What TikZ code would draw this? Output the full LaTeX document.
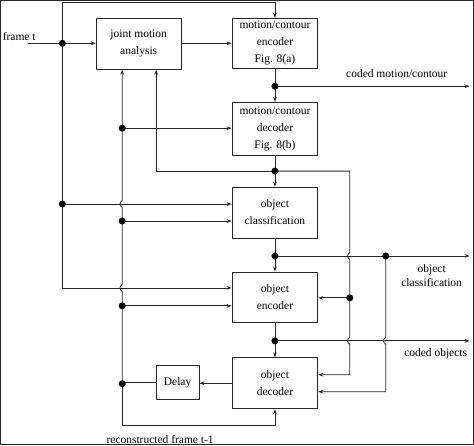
\documentclass[tikz,border=0pt]{standalone}
\usepackage{fontspec}
\setmainfont{Liberation Serif}
\usetikzlibrary{arrows.meta,calc}
\begin{document}
\begin{tikzpicture}[x=1pt,y=-1pt,
  line width=0.8pt,
  every path/.style={draw=black!85},
  box/.style={draw=black!85,fill=white,minimum width=86pt,minimum height=51pt,align=center,inner sep=1pt,
    font=\fontsize{11.5}{17}\selectfont},
  lbl/.style={align=center,font=\fontsize{11.5}{14}\selectfont,inner sep=0pt},
  arr/.style={-{Stealth[length=5pt,width=3.6pt]}},
  dot/.style={circle,fill=black,inner sep=0pt,minimum size=7pt}]
\useasboundingbox (0,0) rectangle (474,445);

% boxes
\node[box,minimum width=85pt] (jma) at (138.5,43.5) {joint motion\\analysis};
\node[box,minimum height=50pt] (mce) at (275,43) {motion/contour\\encoder\\Fig. 8(a)};
\node[box,minimum height=53pt] (mcd) at (275,128.5) {motion/contour\\decoder\\Fig. 8(b)};
\node[box] (ocl) at (275,212.5) {object\\classification};
\node[box] (oen) at (275,297.5) {object\\encoder};
\node[box] (ode) at (275,383.5) {object\\decoder};
\node[box,minimum width=43pt,minimum height=34pt] (dly) at (177.5,383) {Delay};

% labels
\node[lbl,anchor=west] (lft) at (2,36) {frame t};
\node[lbl] (lcm) at (397,73) {coded motion/contour};
\node[lbl] (lcl) at (432,276) {object\\classification};
\node[lbl] (lco) at (436,354) {coded objects};
\node[lbl] (lrf) at (160,440) {reconstructed frame t-1};

% junction coordinates
\coordinate (fin) at (28,43);
\coordinate (J1) at (62,43);
\coordinate (T1) at (62,2);
\coordinate (T2) at (275,2);
\coordinate (J2) at (275,86);
\coordinate (O1) at (470,86);
\coordinate (J12) at (122,128);
\coordinate (J4) at (275,171);
\coordinate (C1) at (156,171);
\coordinate (C2) at (350,171);
\coordinate (J3) at (62,204);
\coordinate (J6) at (122,221);
\coordinate (J7) at (275,256);
\coordinate (J8) at (386,256);
\coordinate (O2) at (470,256);
\coordinate (C3) at (62,288);
\coordinate (J5) at (350,298);
\coordinate (J9) at (122,306);
\coordinate (J10) at (275,341);
\coordinate (O3) at (470,341);
\coordinate (J11) at (122,384);
\coordinate (B1) at (122,426);
\coordinate (B2) at (275,426);

% frame t input
\draw (fin) -- (J1);
\draw[arr] (J1) -- (J1 -| jma.west);
\draw[arr] (J1) -- (T1) -- (T2) -- (mce.north);
\draw (J1) -- (J3) -- (C3);
\draw[arr] (J3) -- (J3 -| ocl.west);
\draw[arr] (C3) -- (C3 -| oen.west);

% motion/contour encoder
\draw[arr] (jma.east |- mce.west) -- (mce.west);
\draw (mce.south) -- (J2);
\draw[arr] (J2) -- (mcd.north);
\draw[arr] (J2) -- (O1);

% reconstructed frame line x=122
\draw[arr] (J11) -- (122,291.5) .. controls (119,289.5) and (119,286.5) .. (122,284.5)
  -- (122,207.5) .. controls (119,205.5) and (119,202.5) .. (122,200.5)
  -- (J11 |- jma.south);
\draw[arr] (J12) -- (J12 -| mcd.west);
\draw[arr] (J6) -- (J6 -| ocl.west);
\draw[arr] (J9) -- (J9 -| oen.west);

% motion/contour decoder output
\draw (mcd.south) -- (J4);
\draw[arr] (J4) -- (ocl.north);
\draw[arr] (J4) -- (C1) -- (C1 |- jma.south);
\draw (J4) -- (C2) -- (350,252.5) .. controls (347,254.5) and (347,257.5) .. (350,259.5) -- (J5);
\draw[arr] (J5) -- (J5 -| oen.east);
\draw[arr] (J5) -- (350,337.5) .. controls (347,339.5) and (347,342.5) .. (350,344.5)
  -- (350,375) -- (ode.east |- 0,375);

% object classification output
\draw (ocl.south) -- (J7);
\draw[arr] (J7) -- (oen.north);
\draw[arr] (J7) -- (O2);
\draw[arr] (J8) -- (386,337.5) .. controls (383,339.5) and (383,342.5) .. (386,344.5)
  -- (386,392) -- (ode.east |- 0,392);

% object encoder output
\draw (oen.south) -- (J10);
\draw[arr] (J10) -- (ode.north);
\draw[arr] (J10) -- (O3);

% decoder / delay loop
\draw[arr] (ode.west) -- (dly.east |- ode.west);
\draw (dly.west) -- (J11 |- dly.west);
\draw[arr] (J11) -- (B1) -- (B2) -- (ode.south);

% dots
\foreach \p in {J1,J2,J12,J4,J3,J6,J7,J8,J5,J9,J10,J11}
  \node[dot] at (\p) {};
\end{tikzpicture}
\end{document}
